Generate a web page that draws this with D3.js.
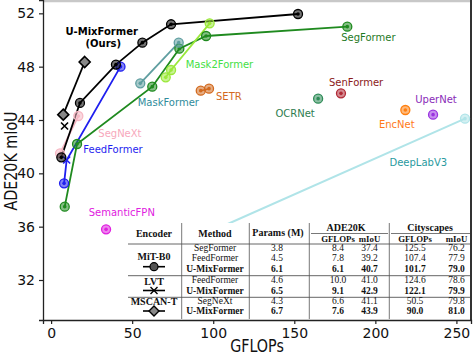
<!DOCTYPE html>
<html><head><meta charset="utf-8">
<script src="https://cdn.jsdelivr.net/npm/d3@7"></script>
<style>body{margin:0;background:#fff}svg{display:block}</style>
</head><body><svg id="c" width="474" height="357"></svg>
<script>
// ---------- data (GFLOPs, ADE20K mIoU) ----------
const xTicks = [0, 50, 100, 150, 200, 250];
const yTicks = [32, 36, 40, 44, 48, 52];

const umixMitG = [6.3, 17.8, 40.0, 56.3, 74.0, 152.3];
const umixMitM = [41.2, 45.28, 48.16, 49.8, 51.18, 51.95];
const umixMscanG = [7.5, 20.7];
const umixMscanM = [44.4, 48.35];
const umixLvtG = [8.3];
const umixLvtM = [43.55];

const feedG = [8.0, 9.6, 42.8];
const feedM = [39.25, 41.0, 48.0];
const feedMarks = ["o", "x", "o"];

const segG = [8.4, 16.0, 62.4, 79.1, 95.6, 182.7];
const segM = [37.5, 42.2, 46.5, 49.35, 50.3, 51.0];

const mask2G = [70.7, 74.0, 97.8];
const mask2M = [47.2, 47.75, 51.25];
const maskG = [55.0, 78.7];
const maskM = [46.75, 49.8];
const setrG = [92.3, 97.4];
const setrM = [46.2, 46.35];
const segnextG = [5.5, 16.8];
const segnextM = [41.5, 44.3];
const deeplabG = [67.2, 255.3];
const deeplabM = [33.95, 44.1];

const singleNames = ["OCRNet", "SenFormer", "EncNet", "UperNet", "SemanticFPN"];
const singleG = [164.7, 178.8, 218.5, 235.6, 33.9];
const singleM = [45.6, 46.0, 44.75, 44.4, 35.8];

// table
const tblEncoders = ["MiT-B0", "LVT", "MSCAN-T"];
const tblMethods = ["SegFormer", "FeedFormer", "U-MixFormer", "FeedFormer", "U-MixFormer", "SegNeXt", "U-MixFormer"];
const tblParams = ["3.8", "4.5", "6.1", "4.6", "6.5", "4.3", "6.7"];
const tblAdeG = ["8.4", "7.8", "6.1", "10.0", "9.1", "6.6", "7.6"];
const tblAdeM = ["37.4", "39.2", "40.7", "41.0", "42.9", "41.1", "43.9"];
const tblCityG = ["125.5", "107.4", "101.7", "124.6", "122.1", "50.5", "90.0"];
const tblCityM = ["76.2", "77.9", "79.0", "78.6", "79.9", "79.8", "81.0"];
const tblBold = [false, false, true, false, true, false, true];

// ---------- chart ----------
const svg = d3.select("#c");
const x = d3.scaleLinear().domain([-5, 259]).range([43, 471]);
const y = d3.scaleLinear().domain([29, 53]).range([320, 0]);
const FONT = "'DejaVu Sans', sans-serif";

const line = d3.line().x(d => x(d[0])).y(d => y(d[1]));
const zip = (a, b) => a.map((v, i) => [v, b[i]]);

// frame top/right
svg.append("line").attr("x1", 43).attr("x2", 471).attr("y1", 1).attr("y2", 1)
  .attr("stroke", "#c8c8c8").attr("stroke-width", 2.5);
svg.append("line").attr("x1", 471).attr("x2", 471).attr("y1", 0).attr("y2", 320)
  .attr("stroke", "#333").attr("stroke-width", 2);

function circles(g, pts, color, r) {
  r = r || 4.5;
  g.selectAll(null).data(pts).enter().append("circle")
    .attr("cx", d => x(d[0])).attr("cy", d => y(d[1])).attr("r", r)
    .attr("fill", color).attr("fill-opacity", 0.55).attr("stroke", color).attr("stroke-width", 1.3);
  g.selectAll(null).data(pts).enter().append("circle")
    .attr("cx", d => x(d[0])).attr("cy", d => y(d[1])).attr("r", 1.8).attr("fill", color);
}
function crosses(g, pts, color) {
  const s = 3.5;
  pts.forEach(d => {
    const cx = x(d[0]), cy = y(d[1]);
    g.append("path").attr("d", `M${cx - s},${cy - s}L${cx + s},${cy + s}M${cx - s},${cy + s}L${cx + s},${cy - s}`)
      .attr("stroke", color).attr("stroke-width", 1.6).attr("fill", "none");
  });
}
function diamonds(g, pts, color) {
  const s = 5.5;
  pts.forEach(d => {
    const cx = x(d[0]), cy = y(d[1]);
    g.append("path").attr("d", `M${cx},${cy - s}L${cx + s},${cy}L${cx},${cy + s}L${cx - s},${cy}Z`)
      .attr("fill", "#888").attr("stroke", color).attr("stroke-width", 1.6);
  });
}
function series(gx, gy, color, width) {
  svg.append("path").datum(zip(gx, gy)).attr("d", line).attr("fill", "none")
    .attr("stroke", color).attr("stroke-width", width || 1.8);
}

const G = svg.append("g");
// DeepLabV3 (behind table)
series(deeplabG, deeplabM, "#b0e4e8", 2);
circles(G, [[deeplabG[1], deeplabM[1]]], "#b0e4e8");

// other series
series(segG, segM, "#1f8a1f", 1.8);
series(mask2G, mask2M, "#9ae83a", 1.8);
series(maskG, maskM, "#5f9ea0", 1.8);
series(setrG, setrM, "#d2691e", 1.5);
series(segnextG, segnextM, "#f6b8c4", 1.8);
series(feedG, feedM, "#1f1fef", 1.8);
series(umixMitG, umixMitM, "#000", 1.8);
series(umixMscanG, umixMscanM, "#000", 1.8);

const M = svg.append("g");
circles(M, zip(segG, segM), "#1f8a1f");
circles(M, zip(mask2G, mask2M), "#9ae83a");
circles(M, zip(maskG, maskM), "#5f9ea0");
circles(M, zip(setrG, setrM), "#d2691e");
circles(M, zip(segnextG, segnextM), "#f6b8c4");
circles(M, zip(feedG, feedM).filter((d, i) => feedMarks[i] === "o"), "#1f1fef");
crosses(M, zip(feedG, feedM).filter((d, i) => feedMarks[i] === "x"), "#1f1fef");
circles(M, zip(umixMitG, umixMitM), "#000");
crosses(M, zip(umixLvtG, umixLvtM), "#000");
diamonds(M, zip(umixMscanG, umixMscanM), "#000");
const singleColors = ["#2e8b57", "#b02a36", "#ff7f0e", "#9932e0", "#e020e0"];
singleNames.forEach((n, i) => circles(M, [[singleG[i], singleM[i]]], singleColors[i]));

// labels [text, gflops, miou, anchor, color, bold]
const labels = [
  ["U-MixFormer", 31.2, 50.62, "middle", "#000", true],
  ["(Ours)", 32.2, 49.75, "middle", "#000", true],
  ["SegFormer", 195.7, 50.17, "middle", "#1f7a1f", false],
  ["Mask2Former", 83.0, 48.2, "start", "#44e044", false],
  ["MaskFormer", 72.3, 45.33, "middle", "#2f8c9c", false],
  ["SETR", 101.7, 45.73, "start", "#d2691e", false],
  ["SegNeXt", 29.1, 43.0, "start", "#f7a8bc", false],
  ["FeedFormer", 19.9, 41.8, "start", "#1f1fef", false],
  ["SenFormer", 188.1, 46.85, "middle", "#8b1a1a", false],
  ["OCRNet", 150.5, 44.5, "middle", "#2e7d4f", false],
  ["UperNet", 237.4, 45.55, "middle", "#8a2bb8", false],
  ["EncNet", 213.2, 43.7, "middle", "#ff7a1a", false],
  ["DeepLabV3", 226.5, 40.85, "middle", "#2a9aa0", false],
  ["SemanticFPN", 43.6, 37.05, "middle", "#e020e0", false]
];
svg.append("g").selectAll("text").data(labels).enter().append("text")
  .attr("x", d => x(d[1])).attr("y", d => y(d[2])).attr("text-anchor", d => d[3])
  .attr("dominant-baseline", "central").attr("fill", d => d[4])
  .attr("font-weight", d => d[5] ? "bold" : "normal")
  .attr("font-family", FONT).attr("font-size", 10).text(d => d[0]);

// ---------- table ----------
const T = svg.append("g").attr("font-family", "'Liberation Serif', 'Times New Roman', serif").attr("font-size", 9.5);
const tL = 128, tR = 470, tT = 223, tB = 319;
T.append("rect").attr("x", tL).attr("y", tT).attr("width", tR - tL).attr("height", tB - tT).attr("fill", "#fff");
const lc = "#555";
[181.7, 249.3, 309.3, 389.3].forEach(vx => T.append("line").attr("x1", vx).attr("x2", vx).attr("y1", tT).attr("y2", tB).attr("stroke", lc).attr("stroke-width", 0.8));
[244, 275.7, 297.3].forEach(hy => T.append("line").attr("x1", tL).attr("x2", tR).attr("y1", hy).attr("y2", hy).attr("stroke", lc).attr("stroke-width", 0.9));
[[311, 388], [391, 470]].forEach(s => T.append("line").attr("x1", s[0]).attr("x2", s[1]).attr("y1", 233.5).attr("y2", 233.5).attr("stroke", lc).attr("stroke-width", 0.8));
const hdr = [["Encoder", 154, 233.5, 10], ["Method", 215, 233.5, 10], ["Params (M)", 278, 232.5, 10], ["ADE20K", 346, 227.5, 10], ["Cityscapes", 430, 227.5, 10],
  ["GFLOPs", 338, 238.8, 8.8], ["mIoU", 369.5, 238.8, 8.8], ["GFLOPs", 415, 238.8, 8.8], ["mIoU", 456.5, 238.8, 8.8]];
hdr.forEach(h => T.append("text").attr("x", h[1]).attr("y", h[2]).attr("text-anchor", "middle").attr("dominant-baseline", "central")
  .attr("font-weight", "bold").attr("font-size", h[3]).attr("fill", "#111").text(h[0]));
const rowY = [247.7, 258.3, 269, 280, 290.5, 300.5, 310.7];
const cols = [[tblMethods, 215], [tblParams, 277], [tblAdeG, 338], [tblAdeM, 369.5], [tblCityG, 415], [tblCityM, 456.5]];
cols.forEach(c => c[0].forEach((v, i) => T.append("text").attr("x", c[1]).attr("y", rowY[i]).attr("text-anchor", "middle")
  .attr("dominant-baseline", "central").attr("font-weight", tblBold[i] ? "bold" : "normal").attr("fill", "#111").text(v)));
const encY = [[256.7, 266.7], [281.7, 290.5], [301, 311]];
tblEncoders.forEach((e, i) => {
  T.append("text").attr("x", 154).attr("y", encY[i][0]).attr("text-anchor", "middle").attr("dominant-baseline", "central")
    .attr("font-weight", "bold").attr("font-size", 10).attr("fill", "#111").text(e);
  T.append("line").attr("x1", 143).attr("x2", 165).attr("y1", encY[i][1]).attr("y2", encY[i][1]).attr("stroke", "#000").attr("stroke-width", 1.6);
  const cx = 154, cy = encY[i][1];
  if (i === 0) { T.append("circle").attr("cx", cx).attr("cy", cy).attr("r", 4).attr("fill", "#555").attr("stroke", "#000").attr("stroke-width", 1.2); }
  if (i === 1) { T.append("path").attr("d", `M${cx - 3.5},${cy - 3.5}L${cx + 3.5},${cy + 3.5}M${cx - 3.5},${cy + 3.5}L${cx + 3.5},${cy - 3.5}`).attr("stroke", "#000").attr("stroke-width", 1.4); }
  if (i === 2) { T.append("path").attr("d", `M${cx},${cy - 5}L${cx + 5},${cy}L${cx},${cy + 5}L${cx - 5},${cy}Z`).attr("fill", "#888").attr("stroke", "#000").attr("stroke-width", 1.4); }
});

// ---------- axes ----------
const xAxis = svg.append("g").attr("transform", "translate(0,320)")
  .call(d3.axisBottom(x).tickValues(xTicks).tickSize(4).tickPadding(4));
const yAxis = svg.append("g").attr("transform", "translate(43,0)")
  .call(d3.axisLeft(y).tickValues(yTicks).tickSize(4).tickPadding(4));
[xAxis, yAxis].forEach(a => {
  a.selectAll("text").attr("font-family", FONT).attr("font-size", 14).attr("fill", "#111");
  a.select(".domain").attr("stroke", "#222").attr("stroke-width", 1.3);
  a.selectAll(".tick line").attr("stroke", "#222").attr("stroke-width", 1.2);
});
svg.append("text").attr("transform", "translate(257,352) scale(0.84,1)").attr("text-anchor", "middle").attr("font-family", FONT)
  .attr("font-size", 17).attr("fill", "#111").text("GFLOPs");
svg.append("text").attr("transform", "translate(16.5,161) rotate(-90) scale(0.84,1)").attr("text-anchor", "middle").attr("font-family", FONT)
  .attr("font-size", 17).attr("fill", "#111").text("ADE20K mIoU");
</script></body></html>
